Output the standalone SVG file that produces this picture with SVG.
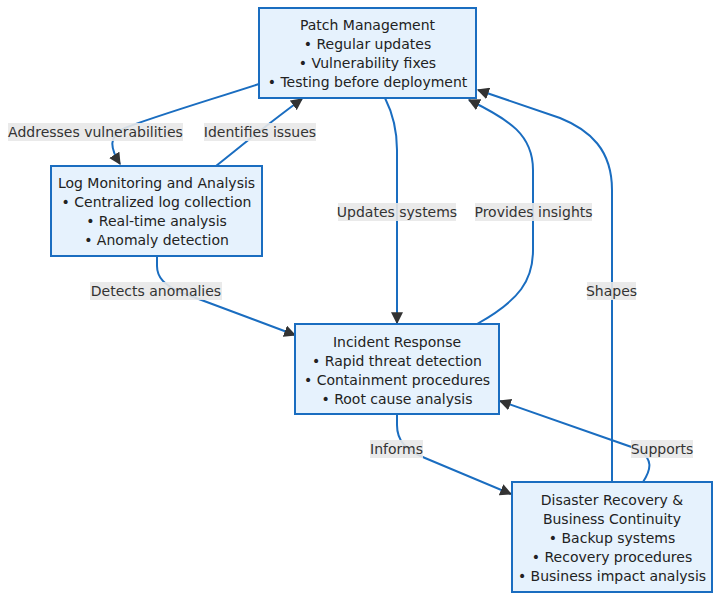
<svg xmlns="http://www.w3.org/2000/svg" width="728" height="606" viewBox="0 0 728 606">
<defs>
<style>
.node rect{fill:#e6f2fd;stroke:#1a6dc0;stroke-width:2}
.node text{font-family:"DejaVu Sans",sans-serif;font-size:14px;fill:#222;text-anchor:middle}
.edge{fill:none;stroke:#1a6dc0;stroke-width:2}
.lbl rect{fill:#e8e8e8;opacity:0.9}
.lbl text{font-family:"DejaVu Sans",sans-serif;font-size:14px;fill:#333;text-anchor:middle}
</style>
<marker id="arr" viewBox="0 0 10 10" refX="9" refY="5" markerUnits="userSpaceOnUse" markerWidth="12" markerHeight="12" orient="auto">
<path d="M0,0 L10,5 L0,10 z" fill="#333"/>
</marker>
</defs>
<rect width="728" height="606" fill="#fff"/>
<g id="connectors">
<path class="edge" marker-end="url(#arr)" d="M259,84 C200,103 150,118 125,128 C108,136 110,148 120,164"/>
<path class="edge" marker-end="url(#arr)" d="M216,166 C240,147 270,122 302,99"/>
<path class="edge" marker-end="url(#arr)" d="M385,98 C392,112 397,130 397,150 L397,323"/>
<path class="edge" marker-end="url(#arr)" d="M477,324 C520,300 533,280 533,250 L533,170 C533,135 510,120 469,100"/>
<path class="edge" marker-end="url(#arr)" d="M612,482 L612,190 C612,150 590,130 560,118 L478,90"/>
<path class="edge" marker-end="url(#arr)" d="M157,256 L157,266 C157,278 165,285 180,292 L295,335"/>
<path class="edge" marker-end="url(#arr)" d="M397,415 L397,425 C397,440 405,450 425,458 L511,494"/>
<path class="edge" marker-end="url(#arr)" d="M643,482 C652,468 652,460 640,450 L500,401"/>
<g class="lbl"><rect x="8" y="123" width="175" height="18"/><text x="95.5" y="137">Addresses vulnerabilities</text></g>
<g class="lbl"><rect x="204" y="123" width="112" height="18"/><text x="260" y="137">Identifies issues</text></g>
<g class="lbl"><rect x="338" y="203" width="118" height="18"/><text x="397" y="217">Updates systems</text></g>
<g class="lbl"><rect x="475" y="203" width="117" height="18"/><text x="533.5" y="217">Provides insights</text></g>
<g class="lbl"><rect x="587" y="282" width="49" height="18"/><text x="611.5" y="296">Shapes</text></g>
<g class="lbl"><rect x="90" y="282" width="132" height="18"/><text x="156" y="296">Detects anomalies</text></g>
<g class="lbl"><rect x="370" y="440" width="53" height="18"/><text x="396.5" y="454">Informs</text></g>
<g class="lbl"><rect x="631" y="440" width="62" height="18"/><text x="662" y="454">Supports</text></g>
</g>
<g id="patch" class="node">
<rect x="259" y="8" width="217" height="90"/>
<text x="367.5" y="30">Patch Management</text>
<text x="367.5" y="49">• Regular updates</text>
<text x="367.5" y="68">• Vulnerability fixes</text>
<text x="367.5" y="87">• Testing before deployment</text>
</g>
<g id="log" class="node">
<rect x="51" y="166" width="211" height="90"/>
<text x="156.5" y="188">Log Monitoring and Analysis</text>
<text x="156.5" y="207">• Centralized log collection</text>
<text x="156.5" y="226">• Real-time analysis</text>
<text x="156.5" y="245">• Anomaly detection</text>
</g>
<g id="incident" class="node">
<rect x="295" y="324" width="204" height="90"/>
<text x="397" y="347">Incident Response</text>
<text x="397" y="366">• Rapid threat detection</text>
<text x="397" y="385">• Containment procedures</text>
<text x="397" y="404">• Root cause analysis</text>
</g>
<g id="disaster" class="node">
<rect x="512" y="482" width="200" height="110"/>
<text x="612" y="505">Disaster Recovery &amp;</text>
<text x="612" y="524">Business Continuity</text>
<text x="612" y="543">• Backup systems</text>
<text x="612" y="562">• Recovery procedures</text>
<text x="612" y="581">• Business impact analysis</text>
</g>
</svg>
